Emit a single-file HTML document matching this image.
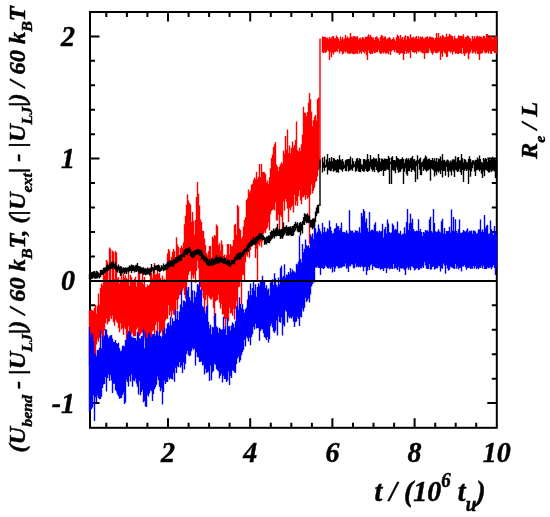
<!DOCTYPE html>
<html><head><meta charset="utf-8"><style>
html,body{margin:0;padding:0;background:#fff;overflow:hidden;}
svg{display:block;}
text{font-family:"Liberation Serif","Times New Roman",serif;font-weight:bold;font-style:italic;fill:#000;stroke:#000;stroke-width:0.45;white-space:pre;}
</style></head><body>
<svg width="550" height="517" viewBox="0 0 550 517">
<defs><filter id="bl" x="-5%" y="-5%" width="110%" height="110%"><feGaussianBlur stdDeviation="0.45"/></filter></defs>
<rect width="550" height="517" fill="#fff"/>
<path d="M90 280.9H496.8" stroke="#000" stroke-width="2"/>
<path d="M106.3 427.8V422.8M106.3 12.0V17.0M126.9 427.8V422.8M126.9 12.0V17.0M147.4 427.8V422.8M147.4 12.0V17.0M168.0 427.8V418.3M168.0 12.0V21.5M188.6 427.8V422.8M188.6 12.0V17.0M209.1 427.8V422.8M209.1 12.0V17.0M229.6 427.8V422.8M229.6 12.0V17.0M250.2 427.8V418.3M250.2 12.0V21.5M270.8 427.8V422.8M270.8 12.0V17.0M291.3 427.8V422.8M291.3 12.0V17.0M311.9 427.8V422.8M311.9 12.0V17.0M332.4 427.8V418.3M332.4 12.0V21.5M353.0 427.8V422.8M353.0 12.0V17.0M373.5 427.8V422.8M373.5 12.0V17.0M394.1 427.8V422.8M394.1 12.0V17.0M414.6 427.8V418.3M414.6 12.0V21.5M435.2 427.8V422.8M435.2 12.0V17.0M455.7 427.8V422.8M455.7 12.0V17.0M476.2 427.8V422.8M476.2 12.0V17.0M90.0 403.1H99.5M496.8 403.1H487.3M90.0 378.7H95.0M496.8 378.7H491.8M90.0 354.2H95.0M496.8 354.2H491.8M90.0 329.8H95.0M496.8 329.8H491.8M90.0 305.3H95.0M496.8 305.3H491.8M90.0 280.9H99.5M496.8 280.9H487.3M90.0 256.4H95.0M496.8 256.4H491.8M90.0 232.0H95.0M496.8 232.0H491.8M90.0 207.5H95.0M496.8 207.5H491.8M90.0 183.1H95.0M496.8 183.1H491.8M90.0 158.6H99.5M496.8 158.6H487.3M90.0 134.2H95.0M496.8 134.2H491.8M90.0 109.7H95.0M496.8 109.7H491.8M90.0 85.3H95.0M496.8 85.3H491.8M90.0 60.8H95.0M496.8 60.8H491.8M90.0 36.4H99.5M496.8 36.4H487.3" stroke="#000" stroke-width="2" fill="none"/>
<rect x="90" y="12" width="406.8" height="415.8" fill="none" stroke="#000" stroke-width="2"/>
<g filter="url(#bl)">
<g fill="none" stroke-width="1.4">
<path stroke="#f00" d="M89.5 310.2V366.5M90.5 311.0V361.9M91.5 309.6V359.3M92.5 310.5V360.9M93.5 310.7V357.6M94.5 307.9V359.0M95.5 304.8V357.5M96.5 313.5V344.6M97.5 305.7V339.4M98.5 293.6V341.8M99.5 304.4V337.8M100.5 287.9V335.1M101.5 283.5V334.6M102.5 285.2V338.3M103.5 271.8V341.4M104.5 274.9V330.4M105.5 269.1V323.2M106.5 260.0V318.5M107.5 261.5V324.5M108.5 281.3V321.9M109.5 247.5V320.9M110.5 249.0V316.2M111.5 280.8V319.0M112.5 250.5V315.4M113.5 252.0V322.3M114.5 279.0V325.8M115.5 251.0V319.8M116.5 252.5V321.6M117.5 278.6V323.0M118.5 276.9V327.8M119.5 283.5V332.3M120.5 279.7V323.3M121.5 270.2V329.6M122.5 279.7V328.1M123.5 273.6V335.1M124.5 277.7V327.5M125.5 275.3V329.2M126.5 278.2V344.8M127.5 279.3V336.2M128.5 269.6V326.3M129.5 285.9V334.8M130.5 275.0V339.1M131.5 277.0V334.1M132.5 282.1V332.7M133.5 282.2V336.5M134.5 279.1V336.3M135.5 276.8V336.3M136.5 286.8V329.6M137.5 281.1V327.5M138.5 272.2V333.2M139.5 272.6V336.1M140.5 279.7V334.5M141.5 282.7V332.7M142.5 272.1V332.8M143.5 283.9V340.1M144.5 276.9V337.6M145.5 287.1V339.9M146.5 287.2V338.6M147.5 284.6V347.6M148.5 286.1V355.0M149.5 284.5V342.1M150.5 267.3V350.7M151.5 272.5V337.5M152.5 278.3V331.6M153.5 273.3V330.0M154.5 263.0V355.6M155.5 274.9V325.2M156.5 273.9V322.0M157.5 269.8V334.1M158.5 274.2V321.7M159.5 273.0V331.1M160.5 277.9V333.1M161.5 282.0V330.9M162.5 275.5V335.8M163.5 279.7V329.1M164.5 278.8V328.8M165.5 280.4V320.6M166.5 269.6V318.2M167.5 253.6V318.9M168.5 249.0V305.2M169.5 250.5V315.5M170.5 266.1V311.6M171.5 257.1V317.4M172.5 252.0V310.5M173.5 248.8V314.4M174.5 250.9V315.0M175.5 257.4V323.9M176.5 237.2V299.9M177.5 244.6V309.7M178.5 247.0V298.9M179.5 255.7V295.2M180.5 247.9V294.8M181.5 245.5V291.6M182.5 247.8V290.6M183.5 242.4V288.3M184.5 224.3V294.9M185.5 215.8V298.5M186.5 204.8V296.5M187.5 194.2V281.4M188.5 200.5V275.1M189.5 203.0V271.7M190.5 204.5V270.9M191.5 221.8V279.8M192.5 212.1V275.4M193.5 221.0V278.6M194.5 234.8V274.5M195.5 219.9V283.1M196.5 197.0V270.9M197.5 181.9V260.7M198.5 193.7V268.5M199.5 205.5V282.2M200.5 219.5V287.1M201.5 222.0V295.8M202.5 230.4V290.5M203.5 231.1V298.2M204.5 238.6V316.7M205.5 245.1V299.9M206.5 253.0V295.0M207.5 255.3V305.9M208.5 251.1V295.7M209.5 246.0V297.7M210.5 245.7V299.5M211.5 257.5V299.4M212.5 236.5V297.3M213.5 238.1V307.9M214.5 235.0V322.2M215.5 235.9V301.5M216.5 224.5V300.6M217.5 226.0V299.7M218.5 245.2V294.8M219.5 243.3V302.6M220.5 250.6V308.5M221.5 240.4V303.9M222.5 244.4V314.4M223.5 255.9V314.3M224.5 254.4V319.1M225.5 260.7V326.7M226.5 254.9V318.9M227.5 243.9V318.5M228.5 244.0V321.3M229.5 254.2V307.8M230.5 244.1V313.5M231.5 246.3V312.7M232.5 246.0V315.8M233.5 240.0V309.0M234.5 225.0V319.4M235.5 223.8V308.7M236.5 234.8V301.1M237.5 205.0V340.9M238.5 206.5V287.2M239.5 228.4V286.6M240.5 229.9V281.7M241.5 238.8V304.5M242.5 236.5V274.4M243.5 226.5V275.3M244.5 219.9V280.9M245.5 217.3V262.3M246.5 200.0V255.0M247.5 198.2V256.7M248.5 189.5V252.1M249.5 192.6V257.8M250.5 190.6V250.0M251.5 184.7V245.1M252.5 183.8V245.0M253.5 180.3V244.6M254.5 177.4V243.9M255.5 179.0V258.0M256.5 171.7V248.7M257.5 179.0V280.1M258.5 176.8V243.9M259.5 164.0V245.8M260.5 177.3V242.0M261.5 164.0V247.3M262.5 171.9V241.5M263.5 171.9V234.0M264.5 172.3V231.6M265.5 174.0V233.1M266.5 182.7V228.9M267.5 180.6V227.5M268.5 184.1V222.4M269.5 177.2V230.4M270.5 168.2V214.2M271.5 158.1V211.1M272.5 154.6V210.1M273.5 146.9V209.1M274.5 144.2V210.6M275.5 142.1V202.5M276.5 164.6V220.6M277.5 166.4V220.4M278.5 171.1V214.7M279.5 166.8V234.6M280.5 164.3V215.3M281.5 162.2V217.0M282.5 164.1V238.8M283.5 150.6V201.2M284.5 153.5V210.8M285.5 136.1V199.0M286.5 149.6V201.8M287.5 129.4V208.5M288.5 153.1V222.0M289.5 145.5V208.0M290.5 153.6V210.3M291.5 148.1V207.2M292.5 141.4V205.4M293.5 147.1V212.6M294.5 144.9V194.8M295.5 140.0V205.6M296.5 121.6V201.2M297.5 150.3V206.1M298.5 151.6V196.2M299.5 147.4V190.6M300.5 151.0V200.6M301.5 144.2V204.3M302.5 134.4V197.2M303.5 106.7V197.1M304.5 112.5V194.9M305.5 112.9V199.8M306.5 116.3V195.2M307.5 111.9V198.7M308.5 102.8V197.0M309.5 93.0V243.8M310.5 99.3V194.8M311.5 111.4V184.4M312.5 126.2V193.5M313.5 120.2V190.7M314.5 116.7V187.8M315.5 114.9V182.3M316.5 120.5V181.1M317.5 99.3V176.4M318.5 97.5V170.3M320 38.6V168.0M322.5 36.6V52.6M323.5 36.7V52.9M324.5 37.0V51.8M325.5 36.8V52.9M326.5 38.3V52.0M327.5 37.6V49.8M328.5 39.3V51.3M329.5 36.9V60.0M330.5 38.6V52.3M331.5 37.5V57.3M332.5 36.3V52.8M333.5 36.1V54.4M334.5 38.6V52.3M335.5 38.0V52.0M336.5 35.6V51.3M337.5 37.0V51.7M338.5 38.7V48.8M339.5 41.1V53.4M340.5 36.6V51.1M341.5 39.3V51.8M342.5 37.1V54.5M343.5 39.2V53.4M344.5 38.5V51.2M345.5 35.0V52.5M346.5 37.9V51.5M347.5 36.5V53.4M348.5 38.3V53.2M349.5 37.4V53.9M350.5 33.0V53.5M351.5 36.8V52.7M352.5 37.4V53.7M353.5 36.1V54.3M354.5 36.3V54.0M355.5 36.5V53.6M356.5 36.7V53.5M357.5 36.2V53.9M358.5 39.8V50.3M359.5 38.2V53.6M360.5 37.7V52.1M361.5 39.4V53.7M362.5 36.9V51.2M363.5 37.4V52.0M364.5 38.9V53.4M365.5 36.7V51.4M366.5 36.8V55.2M367.5 36.6V60.0M368.5 34.2V50.3M369.5 36.6V52.9M370.5 35.1V54.2M371.5 37.1V53.4M372.5 37.5V53.9M373.5 37.4V51.5M374.5 40.0V53.2M375.5 37.3V52.8M376.5 36.3V51.9M377.5 37.4V52.3M378.5 38.5V49.7M379.5 40.9V52.6M380.5 37.0V53.9M381.5 35.0V53.5M382.5 35.8V52.2M383.5 37.7V53.5M384.5 36.4V51.9M385.5 36.8V53.8M386.5 39.3V53.4M387.5 38.6V52.5M388.5 38.0V54.3M389.5 36.9V51.2M390.5 38.4V55.1M391.5 40.1V51.5M392.5 38.9V50.2M393.5 37.2V49.9M394.5 39.3V52.2M395.5 41.0V50.1M396.5 37.0V52.7M397.5 34.5V52.8M398.5 35.9V53.3M399.5 38.6V54.7M400.5 35.0V53.6M401.5 38.6V53.1M402.5 37.0V53.3M403.5 39.7V60.0M404.5 36.5V53.9M405.5 35.3V51.0M406.5 39.8V53.7M407.5 36.1V52.6M408.5 36.6V53.5M409.5 38.5V51.9M410.5 34.3V58.0M411.5 37.6V50.1M412.5 37.4V51.9M413.5 36.7V52.6M414.5 38.4V52.7M415.5 37.2V52.0M416.5 36.1V53.7M417.5 39.1V51.0M418.5 36.3V52.2M419.5 38.7V50.6M420.5 36.6V51.8M421.5 37.3V52.6M422.5 36.4V53.3M423.5 38.3V53.2M424.5 38.6V58.9M425.5 37.3V53.3M426.5 37.0V53.3M427.5 36.2V52.9M428.5 38.4V53.0M429.5 36.8V48.6M430.5 36.4V50.7M431.5 37.6V53.0M432.5 37.2V54.8M433.5 37.8V52.8M434.5 39.7V51.3M435.5 37.8V53.1M436.5 33.0V53.3M437.5 37.5V52.7M438.5 33.0V52.3M439.5 37.8V51.3M440.5 36.1V60.0M441.5 37.4V53.5M442.5 34.7V56.7M443.5 35.8V51.3M444.5 37.4V52.7M445.5 36.9V53.7M446.5 33.7V57.0M447.5 36.8V56.7M448.5 36.2V51.2M449.5 33.9V51.4M450.5 35.2V52.8M451.5 35.5V51.4M452.5 36.3V54.5M453.5 39.4V52.1M454.5 35.7V51.3M455.5 38.2V53.8M456.5 38.7V53.1M457.5 38.3V53.9M458.5 35.3V53.9M459.5 36.0V52.9M460.5 35.7V52.9M461.5 36.0V53.7M462.5 36.2V48.0M463.5 34.3V53.8M464.5 38.7V55.9M465.5 36.9V53.4M466.5 36.7V53.5M467.5 35.4V52.2M468.5 36.0V59.2M469.5 37.7V54.0M470.5 38.4V52.3M471.5 41.2V49.8M472.5 36.0V53.6M473.5 38.8V52.4M474.5 36.3V52.0M475.5 38.8V53.7M476.5 36.4V50.8M477.5 35.5V53.9M478.5 37.2V54.2M479.5 36.3V60.0M480.5 36.6V53.7M481.5 37.0V53.6M482.5 38.2V53.3M483.5 35.7V50.0M484.5 36.0V52.3M485.5 38.0V53.2M486.5 33.9V52.9M487.5 34.1V51.5M488.5 37.1V53.5M489.5 36.9V51.3M490.5 36.2V53.6M491.5 36.1V54.0M492.5 38.8V51.1M493.5 37.5V51.5M494.5 36.6V52.9M495.5 36.3V53.1M496.5 36.2V53.8"/>
<path stroke="#00f" d="M89.5 327.1V412.0M90.5 337.0V410.5M91.5 333.0V409.0M92.5 334.5V407.5M93.5 341.0V395.6M94.5 353.9V421.1M95.5 353.6V397.3M96.5 356.2V402.1M97.5 350.1V395.5M98.5 350.1V398.1M99.5 347.7V399.2M100.5 330.2V398.9M101.5 348.4V396.8M102.5 335.4V388.1M103.5 339.3V384.5M104.5 335.5V384.1M105.5 329.3V377.0M106.5 329.4V391.4M107.5 334.9V378.0M108.5 338.3V374.4M109.5 336.5V381.0M110.5 335.6V375.3M111.5 335.0V380.6M112.5 338.4V393.0M113.5 341.7V383.7M114.5 342.0V383.7M115.5 339.9V390.0M116.5 343.1V391.4M117.5 344.0V394.4M118.5 342.8V396.2M119.5 348.3V398.7M120.5 351.3V398.2M121.5 350.4V398.0M122.5 346.0V395.0M123.5 345.4V392.8M124.5 346.5V404.0M125.5 339.9V402.5M126.5 339.4V379.8M127.5 333.9V382.1M128.5 331.0V386.6M129.5 331.1V376.2M130.5 333.6V381.4M131.5 336.4V374.6M132.5 337.4V386.8M133.5 337.6V380.5M134.5 337.9V381.3M135.5 338.0V378.5M136.5 340.4V383.6M137.5 331.8V386.7M138.5 333.1V394.6M139.5 338.1V381.3M140.5 339.1V395.3M141.5 335.9V392.1M142.5 336.3V390.1M143.5 328.7V402.2M144.5 348.3V400.9M145.5 332.2V406.4M146.5 337.3V407.0M147.5 338.6V395.0M148.5 334.1V396.5M149.5 332.5V393.2M150.5 337.3V390.3M151.5 337.0V391.2M152.5 334.2V401.0M153.5 333.9V394.1M154.5 334.3V389.2M155.5 335.8V387.3M156.5 330.4V384.8M157.5 332.3V376.6M158.5 335.3V380.2M159.5 330.9V386.8M160.5 336.1V391.3M161.5 337.4V388.4M162.5 335.5V404.4M163.5 329.4V392.0M164.5 328.0V380.4M165.5 333.8V383.9M166.5 328.4V381.9M167.5 323.6V381.9M168.5 322.4V377.3M169.5 325.6V379.4M170.5 316.8V378.1M171.5 325.2V378.9M172.5 318.1V379.5M173.5 321.2V372.9M174.5 320.9V381.8M175.5 309.7V367.7M176.5 318.9V373.0M177.5 310.8V366.2M178.5 320.1V367.3M179.5 311.6V361.9M180.5 304.6V367.5M181.5 290.5V365.6M182.5 307.0V373.0M183.5 300.4V362.5M184.5 300.8V369.5M185.5 301.9V363.8M186.5 287.3V354.0M187.5 290.5V350.8M188.5 287.0V355.2M189.5 296.9V356.2M190.5 300.4V355.4M191.5 281.7V351.3M192.5 290.2V348.0M193.5 302.4V349.7M194.5 290.8V348.4M195.5 297.1V365.4M196.5 292.2V352.4M197.5 284.0V356.9M198.5 285.5V357.5M199.5 281.7V362.1M200.5 289.7V362.0M201.5 289.7V361.3M202.5 306.0V365.6M203.5 307.3V364.6M204.5 311.0V374.5M205.5 313.5V369.1M206.5 306.6V372.9M207.5 304.9V372.2M208.5 321.7V371.5M209.5 328.5V380.9M210.5 324.8V365.6M211.5 334.2V380.3M212.5 327.0V372.5M213.5 327.6V370.9M214.5 315.7V363.7M215.5 313.3V364.8M216.5 326.2V368.9M217.5 327.6V370.4M218.5 332.8V371.2M219.5 327.7V378.6M220.5 329.0V375.7M221.5 329.7V373.6M222.5 329.3V382.5M223.5 316.8V375.8M224.5 329.0V379.1M225.5 326.2V379.1M226.5 335.1V382.0M227.5 317.9V380.5M228.5 326.5V371.5M229.5 326.0V385.0M230.5 330.4V375.8M231.5 325.6V378.0M232.5 322.3V370.3M233.5 323.9V370.9M234.5 327.6V372.5M235.5 321.3V373.1M236.5 306.6V364.1M237.5 305.5V358.6M238.5 310.0V356.6M239.5 297.2V362.6M240.5 304.0V360.2M241.5 307.9V355.3M242.5 304.3V352.3M243.5 309.6V349.9M244.5 312.8V339.7M245.5 309.1V346.6M246.5 307.4V336.7M247.5 299.5V338.3M248.5 290.9V341.4M249.5 295.3V337.4M250.5 283.6V345.2M251.5 295.1V337.1M252.5 287.9V334.3M253.5 281.5V326.8M254.5 290.4V329.6M255.5 284.3V323.8M256.5 296.8V328.6M257.5 287.0V328.1M258.5 283.2V328.2M259.5 285.6V340.7M260.5 280.0V331.0M261.5 280.7V329.2M262.5 275.7V329.6M263.5 280.2V333.3M264.5 280.7V337.1M265.5 287.9V338.0M266.5 285.2V340.0M267.5 289.9V337.0M268.5 288.6V342.5M269.5 295.5V339.3M270.5 282.6V326.1M271.5 282.0V323.5M272.5 279.3V327.6M273.5 284.9V331.4M274.5 273.2V333.1M275.5 278.3V330.8M276.5 284.7V320.6M277.5 286.8V335.6M278.5 277.4V316.6M279.5 284.2V322.1M280.5 268.0V322.8M281.5 265.8V317.4M282.5 277.4V335.4M283.5 276.0V324.5M284.5 264.3V326.5M285.5 277.4V310.6M286.5 274.6V311.7M287.5 275.0V322.6M288.5 272.0V316.2M289.5 274.0V318.2M290.5 268.1V317.4M291.5 272.3V318.6M292.5 269.6V316.8M293.5 271.3V321.6M294.5 271.4V327.1M295.5 272.7V322.2M296.5 263.8V321.4M297.5 264.8V316.9M298.5 261.5V318.9M299.5 235.8V325.9M300.5 259.0V316.7M301.5 262.4V317.3M302.5 244.0V308.8M303.5 252.2V311.6M304.5 248.7V307.7M305.5 239.6V297.7M306.5 245.2V302.0M307.5 246.6V300.6M308.5 245.2V298.6M309.5 247.7V302.6M310.5 234.4V294.5M311.5 236.7V286.6M312.5 233.6V284.2M313.5 238.9V280.9M314.5 222.9V282.5M315.5 228.2V267.6M316.5 233.5V267.8M317.5 231.4V266.5M318.5 224.6V268.1M319.5 228.8V268.1M320.5 231.2V275.0M321.5 234.1V268.2M322.5 223.1V268.1M323.5 232.1V268.9M324.5 226.9V268.2M325.5 232.3V265.5M326.5 231.4V266.7M327.5 228.3V268.3M328.5 229.6V268.4M329.5 220.4V267.4M330.5 226.7V269.0M331.5 230.7V267.4M332.5 233.8V272.5M333.5 232.9V266.9M334.5 229.1V271.8M335.5 228.1V268.5M336.5 223.3V266.0M337.5 226.3V266.4M338.5 226.0V268.5M339.5 230.1V268.3M340.5 228.0V267.2M341.5 222.4V267.9M342.5 232.2V266.8M343.5 231.8V266.4M344.5 232.0V266.5M345.5 233.0V263.6M346.5 230.3V268.7M347.5 232.7V267.4M348.5 233.8V271.9M349.5 210.2V265.7M350.5 230.2V266.4M351.5 231.1V264.3M352.5 230.4V264.5M353.5 232.6V268.2M354.5 232.6V268.2M355.5 230.2V263.4M356.5 230.9V267.1M357.5 230.8V266.2M358.5 232.4V267.3M359.5 227.3V266.6M360.5 232.8V267.5M361.5 213.0V266.1M362.5 216.3V267.0M363.5 209.0V271.2M364.5 211.0V267.3M365.5 222.3V266.8M366.5 218.6V275.0M367.5 227.9V270.7M368.5 231.7V267.0M369.5 211.9V269.9M370.5 231.2V265.6M371.5 230.0V263.9M372.5 229.5V270.0M373.5 230.5V266.0M374.5 224.4V266.7M375.5 222.2V267.8M376.5 231.6V268.3M377.5 231.0V267.8M378.5 232.6V268.4M379.5 230.5V267.8M380.5 231.4V269.8M381.5 231.2V269.0M382.5 223.8V268.8M383.5 237.6V270.9M384.5 229.2V268.3M385.5 227.0V268.1M386.5 233.6V272.9M387.5 219.4V268.5M388.5 223.5V267.8M389.5 232.3V269.5M390.5 232.9V268.8M391.5 232.6V268.6M392.5 223.6V268.9M393.5 225.2V264.0M394.5 230.2V268.7M395.5 228.8V267.7M396.5 230.1V268.5M397.5 221.5V270.0M398.5 233.0V266.9M399.5 233.4V271.7M400.5 230.7V268.0M401.5 234.9V268.7M402.5 233.8V268.2M403.5 233.7V268.8M404.5 227.2V270.2M405.5 233.4V275.0M406.5 222.0V268.6M407.5 209.0V267.3M408.5 230.1V269.7M409.5 223.3V267.4M410.5 213.7V270.2M411.5 222.7V266.3M412.5 218.8V266.8M413.5 229.0V268.1M414.5 231.0V270.6M415.5 231.6V269.6M416.5 230.4V268.4M417.5 231.1V268.0M418.5 219.2V270.1M419.5 231.1V269.6M420.5 229.1V268.0M421.5 232.1V268.6M422.5 236.0V266.8M423.5 232.1V267.9M424.5 232.7V261.9M425.5 230.1V265.3M426.5 230.7V268.4M427.5 230.2V269.0M428.5 231.8V268.9M429.5 219.4V264.2M430.5 216.8V269.8M431.5 231.1V269.3M432.5 232.6V267.1M433.5 209.0V266.4M434.5 223.1V269.4M435.5 231.3V269.0M436.5 232.3V267.9M437.5 231.5V268.2M438.5 229.3V265.5M439.5 231.6V266.5M440.5 232.5V271.4M441.5 221.3V268.3M442.5 218.7V268.8M443.5 233.4V263.4M444.5 227.9V265.6M445.5 234.0V273.8M446.5 230.9V265.0M447.5 231.3V268.5M448.5 231.1V270.8M449.5 226.7V269.7M450.5 232.4V266.5M451.5 209.6V267.5M452.5 230.4V267.7M453.5 216.9V268.5M454.5 231.2V269.1M455.5 219.2V263.9M456.5 231.1V268.8M457.5 232.9V266.5M458.5 229.2V269.6M459.5 219.4V268.1M460.5 232.7V267.8M461.5 232.9V271.6M462.5 232.2V266.6M463.5 229.9V266.5M464.5 231.2V264.9M465.5 231.6V267.2M466.5 230.2V269.7M467.5 228.3V268.1M468.5 232.6V267.7M469.5 230.7V267.7M470.5 231.2V269.0M471.5 230.4V268.6M472.5 234.1V268.7M473.5 230.5V266.0M474.5 230.7V268.6M475.5 231.6V266.3M476.5 233.7V269.0M477.5 233.0V267.8M478.5 229.4V269.3M479.5 229.2V267.7M480.5 219.6V268.1M481.5 231.7V265.8M482.5 229.6V268.6M483.5 232.1V265.6M484.5 215.1V269.0M485.5 228.2V269.1M486.5 225.8V269.0M487.5 224.8V267.2M488.5 233.7V268.3M489.5 233.5V267.8M490.5 220.6V267.3M491.5 228.9V269.3M492.5 232.4V267.2M493.5 234.8V265.1M494.5 226.1V267.9M495.5 231.0V275.0M496.5 233.9V267.2"/>
<path stroke="#000" d="M89.5 274.1V279.5M90.5 273.8V280.0M91.5 272.2V278.9M92.5 271.8V278.7M93.5 271.6V277.5M94.5 270.9V278.5M95.5 272.5V278.7M96.5 270.7V278.4M97.5 271.6V278.4M98.5 272.4V277.3M99.5 273.2V278.5M100.5 270.1V277.0M101.5 269.7V275.3M102.5 269.9V275.1M103.5 267.8V274.2M104.5 267.4V273.7M105.5 267.6V272.3M106.5 265.6V271.4M107.5 264.6V271.6M108.5 265.3V270.6M109.5 263.4V268.9M110.5 263.6V269.4M111.5 261.8V268.7M112.5 262.8V268.6M113.5 261.6V267.5M114.5 264.0V269.2M115.5 262.2V269.5M116.5 265.6V271.3M117.5 266.3V272.4M118.5 264.5V270.6M119.5 266.6V272.9M120.5 266.1V276.0M121.5 266.5V273.9M122.5 268.3V273.6M123.5 267.3V272.6M124.5 268.0V273.9M125.5 267.4V272.8M126.5 267.4V274.2M127.5 267.4V271.4M128.5 267.0V272.6M129.5 265.6V271.2M130.5 265.9V270.9M131.5 264.6V273.0M132.5 264.9V271.1M133.5 265.3V271.0M134.5 266.5V272.4M135.5 265.2V271.6M136.5 264.8V272.0M137.5 263.1V270.9M138.5 266.0V272.4M139.5 266.2V273.5M140.5 266.4V273.8M141.5 267.4V273.5M142.5 267.6V272.8M143.5 267.2V274.9M144.5 268.4V274.2M145.5 268.3V275.2M146.5 268.8V274.7M147.5 267.5V274.4M148.5 268.2V274.3M149.5 268.4V275.6M150.5 268.1V275.1M151.5 264.0V272.0M152.5 266.9V270.8M153.5 267.4V273.2M154.5 265.0V271.1M155.5 265.4V270.1M156.5 265.4V269.7M157.5 264.9V270.9M158.5 264.6V271.2M159.5 265.6V272.2M160.5 267.8V271.4M161.5 265.3V270.7M162.5 266.2V269.7M163.5 263.6V271.2M164.5 265.1V270.5M165.5 264.6V270.3M166.5 263.5V269.5M167.5 262.1V269.8M168.5 260.8V267.8M169.5 262.3V267.0M170.5 260.2V266.5M171.5 260.6V266.4M172.5 260.5V266.5M173.5 259.2V266.9M174.5 259.0V264.5M175.5 257.2V263.7M176.5 256.7V263.2M177.5 257.1V262.9M178.5 256.2V260.8M179.5 255.0V261.2M180.5 254.8V261.5M181.5 254.0V260.3M182.5 254.1V257.6M183.5 251.7V256.8M184.5 249.9V256.9M185.5 248.9V254.5M186.5 248.2V254.9M187.5 248.8V255.0M188.5 248.1V252.7M189.5 247.1V253.0M190.5 248.9V256.0M191.5 251.8V257.2M192.5 251.5V258.0M193.5 251.5V257.6M194.5 250.3V256.4M195.5 250.3V255.2M196.5 249.7V254.6M197.5 248.8V254.8M198.5 248.7V254.3M199.5 249.2V255.9M200.5 250.4V255.9M201.5 249.8V259.5M202.5 252.3V258.7M203.5 254.4V260.9M204.5 255.8V261.6M205.5 256.3V262.5M206.5 257.4V264.3M207.5 258.4V265.2M208.5 260.6V265.9M209.5 259.1V266.1M210.5 260.4V264.8M211.5 258.6V266.1M212.5 258.6V264.5M213.5 259.3V265.2M214.5 258.4V265.2M215.5 257.2V263.5M216.5 254.9V264.3M217.5 256.8V263.6M218.5 256.9V263.5M219.5 258.3V262.5M220.5 256.6V262.7M221.5 257.2V262.5M222.5 258.0V262.7M223.5 258.9V263.9M224.5 257.9V263.9M225.5 257.8V263.9M226.5 260.7V264.7M227.5 259.3V265.2M228.5 260.7V265.4M229.5 260.0V266.6M230.5 262.4V266.9M231.5 260.0V264.4M232.5 259.7V263.9M233.5 260.1V264.3M234.5 256.9V264.2M235.5 256.4V261.3M236.5 253.9V259.7M237.5 254.5V259.8M238.5 252.8V259.5M239.5 252.7V259.4M240.5 252.1V259.5M241.5 253.0V257.5M242.5 251.5V256.7M243.5 250.0V256.3M244.5 248.4V254.1M245.5 248.6V251.9M246.5 247.1V252.2M247.5 244.7V250.8M248.5 242.9V251.4M249.5 242.6V247.9M250.5 241.2V246.6M251.5 239.7V246.5M252.5 239.4V245.7M253.5 237.0V244.8M254.5 238.9V244.8M255.5 237.6V244.7M256.5 236.1V243.6M257.5 236.3V242.3M258.5 234.9V240.7M259.5 233.0V239.6M260.5 232.9V238.2M261.5 233.0V239.7M262.5 234.6V240.0M263.5 235.2V240.0M264.5 236.9V244.8M265.5 237.9V244.3M266.5 236.5V244.4M267.5 236.4V242.8M268.5 235.3V243.1M269.5 235.7V243.2M270.5 232.1V240.9M271.5 230.5V239.5M272.5 230.9V238.4M273.5 228.6V236.7M274.5 229.9V238.4M275.5 228.5V236.1M276.5 227.3V236.4M277.5 223.7V235.7M278.5 229.6V236.0M279.5 228.8V236.3M280.5 229.7V239.1M281.5 229.0V238.1M282.5 228.4V238.5M283.5 222.4V236.6M284.5 226.9V234.7M285.5 226.8V233.1M286.5 225.3V235.7M287.5 227.3V235.6M288.5 226.7V235.8M289.5 226.7V235.2M290.5 226.3V235.2M291.5 227.8V236.2M292.5 226.1V236.1M293.5 225.4V235.4M294.5 223.9V232.3M295.5 221.7V230.6M296.5 223.4V228.2M297.5 222.3V231.5M298.5 225.5V232.3M299.5 222.8V232.0M300.5 222.1V235.6M301.5 223.5V230.7M302.5 221.0V233.4M303.5 217.2V224.8M304.5 213.2V225.1M305.5 214.0V221.6M306.5 214.8V223.2M307.5 213.3V222.6M308.5 215.5V223.2M309.5 215.6V222.2M310.5 219.8V227.6M311.5 219.9V227.5M312.5 218.7V229.3M313.5 218.3V227.7M314.5 218.2V225.9M315.5 211.5V222.3M316.5 207.5V216.2M317.5 205.1V213.4M318.5 204.6V213.2M320 159.6V206.0M322.5 157.6V172.4M323.5 162.3V167.8M324.5 156.4V171.1M325.5 165.1V167.8M326.5 159.6V167.0M327.5 154.0V174.5M328.5 161.4V170.3M329.5 158.1V170.3M330.5 160.9V171.2M331.5 156.9V170.7M332.5 161.3V168.5M333.5 158.0V171.8M334.5 158.5V171.1M335.5 159.9V170.2M336.5 160.3V172.5M337.5 159.1V171.9M338.5 159.9V172.7M339.5 155.3V169.1M340.5 159.5V169.6M341.5 160.4V170.3M342.5 158.9V171.8M343.5 161.5V169.3M344.5 164.5V168.1M345.5 160.2V171.0M346.5 159.5V171.2M347.5 159.2V166.4M348.5 159.0V171.4M349.5 158.9V170.6M350.5 156.6V170.2M351.5 164.4V169.2M352.5 158.2V170.7M353.5 160.9V167.7M354.5 164.0V167.0M355.5 161.5V171.8M356.5 158.8V170.9M357.5 158.0V168.6M358.5 160.6V171.5M359.5 158.3V171.9M360.5 159.0V172.2M361.5 164.3V169.1M362.5 164.7V171.1M363.5 159.1V171.8M364.5 158.9V171.4M365.5 160.4V168.7M366.5 159.5V171.0M367.5 154.0V171.9M368.5 159.0V171.3M369.5 161.4V170.5M370.5 154.9V167.3M371.5 159.2V169.2M372.5 159.3V171.6M373.5 157.4V170.1M374.5 158.4V171.9M375.5 158.5V167.1M376.5 158.6V170.0M377.5 161.6V171.6M378.5 154.0V172.8M379.5 158.0V171.7M380.5 162.1V171.1M381.5 158.4V171.2M382.5 158.8V169.9M383.5 159.8V176.0M384.5 158.4V170.9M385.5 158.8V171.1M386.5 158.8V169.5M387.5 159.1V169.5M388.5 156.0V170.3M389.5 157.8V184.0M390.5 161.9V164.1M391.5 157.5V184.0M392.5 156.3V170.1M393.5 160.0V170.7M394.5 160.1V170.8M395.5 160.4V173.3M396.5 156.0V167.2M397.5 158.1V169.8M398.5 158.4V172.8M399.5 159.5V171.9M400.5 159.3V171.7M401.5 158.7V169.6M402.5 157.3V168.5M403.5 159.1V184.0M404.5 163.1V171.8M405.5 159.2V168.3M406.5 158.0V174.2M407.5 159.5V175.7M408.5 158.3V170.9M409.5 160.2V171.2M410.5 158.3V168.2M411.5 157.7V171.9M412.5 156.1V170.1M413.5 159.6V169.7M414.5 159.1V171.4M415.5 161.1V181.9M416.5 160.2V166.1M417.5 155.3V179.2M418.5 160.2V164.1M419.5 158.7V169.7M420.5 157.4V175.1M421.5 162.4V175.2M422.5 161.5V167.0M423.5 159.3V170.9M424.5 158.0V169.0M425.5 155.5V170.3M426.5 156.7V171.8M427.5 159.5V170.7M428.5 158.7V170.3M429.5 158.5V169.3M430.5 160.3V180.8M431.5 160.0V168.4M432.5 158.1V169.6M433.5 160.3V170.5M434.5 158.2V176.6M435.5 161.1V171.9M436.5 157.9V175.2M437.5 162.0V171.1M438.5 158.4V172.6M439.5 159.0V171.1M440.5 156.6V174.1M441.5 160.8V170.5M442.5 154.0V177.4M443.5 160.2V170.9M444.5 159.7V170.9M445.5 161.8V175.7M446.5 160.5V167.1M447.5 159.4V171.6M448.5 160.5V177.3M449.5 162.7V170.4M450.5 160.6V171.7M451.5 161.5V175.6M452.5 159.4V169.9M453.5 159.3V171.6M454.5 159.8V176.9M455.5 156.3V169.8M456.5 161.7V170.4M457.5 157.5V171.9M458.5 157.1V171.4M459.5 160.2V168.7M460.5 160.5V172.3M461.5 154.0V175.0M462.5 158.3V170.0M463.5 162.5V181.9M464.5 158.9V170.8M465.5 159.8V169.2M466.5 161.7V170.9M467.5 162.4V169.4M468.5 158.8V184.0M469.5 156.3V170.2M470.5 159.0V176.7M471.5 162.2V171.4M472.5 160.3V168.3M473.5 160.2V164.7M474.5 161.4V171.5M475.5 159.7V175.9M476.5 159.9V170.6M477.5 157.5V170.0M478.5 158.9V169.4M479.5 155.4V171.5M480.5 158.9V169.7M481.5 162.0V173.8M482.5 162.8V178.0M483.5 158.1V171.5M484.5 159.5V176.2M485.5 158.0V169.8M486.5 158.9V170.3M487.5 161.8V171.0M488.5 158.7V172.6M489.5 159.5V172.5M490.5 159.9V170.5M491.5 158.4V171.9M492.5 156.8V170.7M493.5 159.0V170.5M494.5 158.7V171.5M495.5 160.1V177.9M496.5 158.5V174.1"/>
</g>
</g>
<path d="M90 280.9H496.8" stroke="#000" stroke-width="2"/>
<g font-size="28" text-anchor="end">
<text transform="translate(75,45.5) scale(1,1.07)">2</text>
<text transform="translate(75,167.5) scale(1,1.07)">1</text>
<text transform="translate(75,290) scale(1,1.07)">0</text>
<text transform="translate(75,412.5) scale(1,1.07)">-1</text>
</g>
<g font-size="28" text-anchor="middle">
<text transform="translate(168.0,461.5) scale(1,1.07)">2</text>
<text transform="translate(250.2,461.5) scale(1,1.07)">4</text>
<text transform="translate(332.4,461.5) scale(1,1.07)">6</text>
<text transform="translate(414.6,461.5) scale(1,1.07)">8</text>
<text transform="translate(496.8,461.5) scale(1,1.07)">10</text>
</g>
<text transform="translate(374.5,501) scale(1,1.07)" font-size="28">t / (10<tspan font-size="19" dy="-13">6</tspan><tspan dy="13"> t</tspan><tspan font-size="19" dy="9">u</tspan><tspan dy="-9">)</tspan></text>
<text transform="translate(24.5,452.5) rotate(-90) scale(1.06,1)" font-size="23">(U<tspan font-size="15" dy="7.5">bend</tspan><tspan dy="-7.5"> - |U</tspan><tspan font-size="15" dy="7.5">LJ</tspan><tspan dy="-7.5">|) / 60 k</tspan><tspan font-size="15" dy="7.5">B</tspan><tspan dy="-7.5">T, (|U</tspan><tspan font-size="15" dy="7.5">ext</tspan><tspan dy="-7.5">| - |U</tspan><tspan font-size="15" dy="7.5">LJ</tspan><tspan dy="-7.5">|) / 60 k</tspan><tspan font-size="15" dy="7.5">B</tspan><tspan dy="-7.5">T</tspan></text>
<text transform="translate(537,159) rotate(-90) scale(1.06,1)" font-size="23">R<tspan font-size="15" dy="7.5">e</tspan><tspan dy="-7.5"> / L</tspan></text>
</svg>
</body></html>
